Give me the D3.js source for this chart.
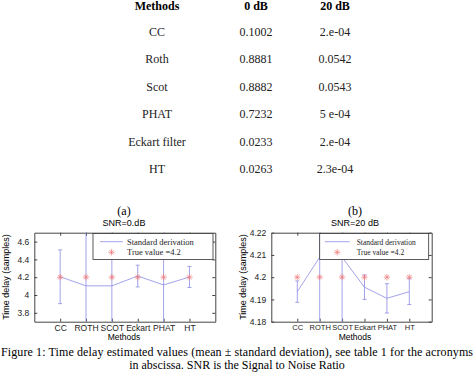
<!DOCTYPE html>
<html>
<head>
<meta charset="utf-8">
<script src="https://cdn.jsdelivr.net/npm/d3@7"></script>
<style>
body { margin: 0; background: #fff; }
svg { display: block; }
</style>
</head>
<body>
<div id="chart"></div>
<script>
// table values
var tableMethods = ["CC", "Roth", "Scot", "PHAT", "Eckart filter", "HT"];
var table0dB = ["0.1002", "0.8881", "0.8882", "0.7232", "0.0233", "0.0263"];
var table20dB = ["2.e-04", "0.0542", "0.0543", "5 e-04", "2.e-04", "2.3e-04"];

// plot values
var methods = ["CC", "ROTH", "SCOT", "Eckart", "PHAT", "HT"];
var meanA = [4.205, 4.103, 4.103, 4.213, 4.113, 4.202];
var stdA = [0.302, 0.94, 0.94, 0.122, 0.85, 0.118];
var meanB = [4.1935, 4.209, 4.209, 4.1955, 4.1905, 4.1935];
var stdB = [0.0048, 0.233, 0.233, 0.0055, 0.0066, 0.0058];
var trueValue = 4.2;
var ticksA = [3.8, 4, 4.2, 4.4, 4.6];
var ticksB = [4.18, 4.19, 4.2, 4.21, 4.22];

var blue = "#8c8ce6",
    red = "#f07a7a";

var svg = d3.select("#chart").append("svg")
    .attr("width", 474)
    .attr("height", 375);

// table
var colX = [157, 256, 335];
var header = ["Methods", "0 dB", "20 dB"];
svg.selectAll(".hdr")
    .data(header)
    .enter().append("text")
    .attr("x", function (d, i) { return colX[i]; })
    .attr("y", 10)
    .attr("text-anchor", "middle")
    .style("font-family", "Liberation Serif")
    .style("font-weight", "bold")
    .style("font-size", "12px")
    .text(function (d) { return d; });

var rowY = d3.scaleLinear().domain([0, 5]).range([35.5, 173]);
[tableMethods, table0dB, table20dB].forEach(function (col, c) {
    svg.selectAll(".col" + c)
        .data(col)
        .enter().append("text")
        .attr("x", colX[c])
        .attr("y", function (d, i) { return rowY(i); })
        .attr("text-anchor", "middle")
        .style("font-family", "Liberation Serif")
        .style("font-size", "12px")
        .style("fill", "#222")
        .text(function (d) { return d; });
});

function drawPanel(opt) {
    var x = d3.scaleLinear().domain(opt.xdom).range([opt.left, opt.right]);
    var y = d3.scaleLinear().domain(opt.ydom).range([321.7, 232.7]);
    var g = svg.append("g");

    g.append("clipPath").attr("id", opt.id)
        .append("rect")
        .attr("x", opt.left).attr("y", 232.7)
        .attr("width", opt.right - opt.left).attr("height", 89);

    // axes with inward ticks
    g.append("g")
        .attr("transform", "translate(" + opt.left + ",0)")
        .call(d3.axisLeft(y).tickValues(opt.ticks).tickSizeInner(-3).tickSizeOuter(0).tickPadding(5)
            .tickFormat(function (d) { return d3.format("")(+d.toFixed(2)); }));
    g.append("g")
        .attr("transform", "translate(" + opt.right + ",0)")
        .call(d3.axisRight(y).tickValues(opt.ticks).tickSizeInner(-3).tickSizeOuter(0).tickFormat(""));
    var xa = g.append("g")
        .attr("transform", "translate(0,321.7)")
        .call(d3.axisBottom(x).tickValues([1, 2, 3, 4, 5, 6]).tickSizeInner(-3).tickSizeOuter(0).tickPadding(3)
            .tickFormat(function (d) { return methods[d - 1]; }));
    g.append("g")
        .attr("transform", "translate(0,232.7)")
        .call(d3.axisTop(x).tickValues([1, 2, 3, 4, 5, 6]).tickSizeInner(-3).tickSizeOuter(0).tickFormat(""));

    g.selectAll(".tick text")
        .style("font-family", "Liberation Sans")
        .style("font-size", "8.5px")
        .style("fill", "#222");
    xa.selectAll(".tick text").style("font-size", opt.xfs + "px");
    g.selectAll(".domain, .tick line").attr("stroke", "#444");

    var plot = g.append("g").attr("clip-path", "url(#" + opt.id + ")");
    var idx = d3.range(opt.mean.length);

    // error bars
    plot.selectAll(".err")
        .data(idx)
        .enter().append("line")
        .attr("x1", function (i) { return x(i + 1); })
        .attr("x2", function (i) { return x(i + 1); })
        .attr("y1", function (i) { return y(opt.mean[i] - opt.std[i]); })
        .attr("y2", function (i) { return y(opt.mean[i] + opt.std[i]); })
        .attr("stroke", blue).attr("stroke-width", 0.8);
    [-1, 1].forEach(function (s) {
        plot.selectAll(".cap" + s)
            .data(idx)
            .enter().append("line")
            .attr("x1", function (i) { return x(i + 1) - 2; })
            .attr("x2", function (i) { return x(i + 1) + 2; })
            .attr("y1", function (i) { return y(opt.mean[i] + s * opt.std[i]); })
            .attr("y2", function (i) { return y(opt.mean[i] + s * opt.std[i]); })
            .attr("stroke", blue).attr("stroke-width", 0.8);
    });

    plot.append("path")
        .datum(idx)
        .attr("fill", "none")
        .attr("stroke", blue).attr("stroke-width", 0.8)
        .attr("d", d3.line()
            .x(function (i) { return x(i + 1); })
            .y(function (i) { return y(opt.mean[i]); }));

    // true value markers
    idx.forEach(function (i) {
        star(plot, x(i + 1), y(trueValue));
    });

    // legend
    var L = opt.legend;
    g.append("rect")
        .attr("x", L.x).attr("y", 233.5)
        .attr("width", L.w).attr("height", 26)
        .attr("fill", "#fff").attr("stroke", "#333").attr("stroke-width", 0.8);
    g.append("line")
        .attr("x1", L.x + L.lx1).attr("x2", L.x + L.lx2)
        .attr("y1", 241.7).attr("y2", 241.7)
        .attr("stroke", blue).attr("stroke-width", 0.8);
    star(g, L.x + (L.lx1 + L.lx2) / 2, 252.3);
    g.selectAll(".leg")
        .data(["Standard derivation", "True value =4.2"])
        .enter().append("text")
        .attr("x", L.x + L.tx)
        .attr("y", function (d, i) { return 244.5 + i * 10.6; })
        .style("font-family", "Liberation Serif")
        .style("font-size", L.fs + "px")
        .style("fill", "#222")
        .text(function (d) { return d; });

    // titles
    svg.append("text")
        .attr("x", opt.cx).attr("y", 215)
        .attr("text-anchor", "middle")
        .style("font-family", "Liberation Serif")
        .style("font-size", "12px")
        .text(opt.letter);
    svg.append("text")
        .attr("x", opt.cx).attr("y", 226)
        .attr("text-anchor", "middle")
        .style("font-family", "Liberation Sans")
        .style("font-size", "9px")
        .text(opt.title);
    svg.append("text")
        .attr("x", opt.cx).attr("y", 340)
        .attr("text-anchor", "middle")
        .style("font-family", "Liberation Sans")
        .style("font-size", "8.5px")
        .text("Methods");
    svg.append("text")
        .attr("transform", "rotate(-90)")
        .attr("x", -277)
        .attr("y", opt.left - 25)
        .attr("text-anchor", "middle")
        .style("font-family", "Liberation Sans")
        .style("font-size", "9px")
        .text("Time delay (samples)");
}

function star(sel, cx, cy) {
    var r = 3.2, d = 2.2;
    var segs = [[-r, 0, r, 0], [0, -r, 0, r], [-d, -d, d, d], [-d, d, d, -d]];
    segs.forEach(function (s) {
        sel.append("line")
            .attr("x1", cx + s[0]).attr("y1", cy + s[1])
            .attr("x2", cx + s[2]).attr("y2", cy + s[3])
            .attr("stroke", red).attr("stroke-width", 0.7);
    });
}

drawPanel({
    id: "clipA", left: 34.3, right: 215.3, xdom: [0, 7], ydom: [3.7, 4.7],
    ticks: ticksA, mean: meanA, std: stdA, cx: 124, xfs: 8.5,
    letter: "(a)", title: "SNR=0.dB",
    legend: { x: 93, w: 120, lx1: 7, lx2: 30, tx: 34, fs: 8.5 }
});
drawPanel({
    id: "clipB", left: 271.3, right: 431.7, xdom: [-0.16, 7], ydom: [4.18, 4.22],
    ticks: ticksB, mean: meanB, std: stdB, cx: 355, xfs: 7.5,
    letter: "(b)", title: "SNR=20 dB",
    legend: { x: 319.7, w: 109, lx1: 5, lx2: 30, tx: 37, fs: 7.5 }
});

// caption
svg.append("text")
    .attr("x", 237).attr("y", 356)
    .attr("text-anchor", "middle")
    .attr("textLength", 472)
    .style("font-family", "Liberation Serif")
    .style("font-size", "12px")
    .text("Figure 1: Time delay estimated values (mean \u00b1 standard deviation), see table 1 for the acronyms");
svg.append("text")
    .attr("x", 237).attr("y", 369)
    .attr("text-anchor", "middle")
    .style("font-family", "Liberation Serif")
    .style("font-size", "12px")
    .text("in abscissa. SNR is the Signal to Noise Ratio");
</script>
</body>
</html>
